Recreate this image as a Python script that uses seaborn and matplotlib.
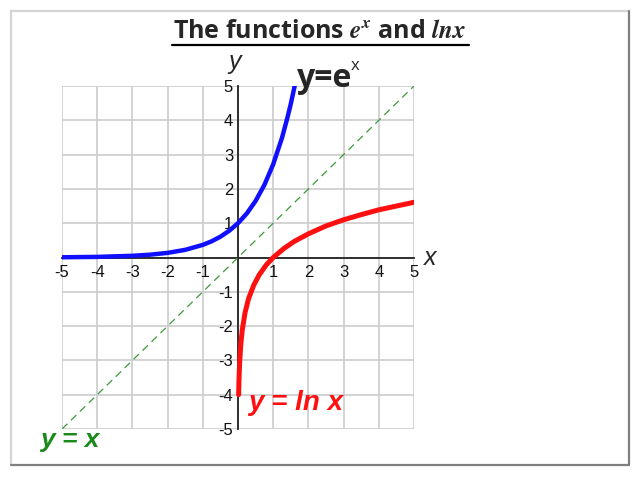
import matplotlib
matplotlib.use("Agg")
import matplotlib.pyplot as plt
import seaborn as sns
import numpy as np
from matplotlib.lines import Line2D
from matplotlib.ticker import FuncFormatter

# ---- data ----
exp_x = [-5, -4, -3, -2.5, -2, -1.5, -1, -0.75, -0.5, -0.25, 0, 0.25, 0.5, 0.75, 1, 1.25, 1.4, 1.5, 1.61]
exp_y = [0.007, 0.018, 0.05, 0.082, 0.135, 0.223, 0.368, 0.472, 0.607, 0.779, 1.0, 1.284, 1.649, 2.117, 2.718, 3.49, 4.06, 4.48, 5.0]

ln_x = [0.018, 0.03, 0.05, 0.08, 0.12, 0.2, 0.3, 0.45, 0.6, 0.8, 1.0, 1.3, 1.6, 2.0, 2.5, 3.0, 3.5, 4.0, 4.5, 5.0]
ln_y = [-4.0, -3.51, -3.0, -2.53, -2.12, -1.61, -1.20, -0.80, -0.51, -0.22, 0.0, 0.26, 0.47, 0.69, 0.92, 1.10, 1.25, 1.39, 1.50, 1.61]

id_x = [-5, 5]
id_y = [-5, 5]

ticks = [-5, -4, -3, -2, -1, 0, 1, 2, 3, 4, 5]

title_text = r"The functions $\mathbfit{e^{x}}$ and $\mathbfit{lnx}$"
exp_label = "y=e"
ln_label = "y = ln x"
id_label = "y = x"

# ---- figure ----
sns.set_style("white")
plt.rcParams["font.family"] = ["Liberation Sans", "DejaVu Sans"]
plt.rcParams["mathtext.fontset"] = "stix"
fig = plt.figure(figsize=(6.4, 4.8), dpi=100)

# slide border
fig.add_artist(Line2D([11/640, 11/640], [1-465/480, 1-11/480], color="#d4d4d4", lw=1.6))
fig.add_artist(Line2D([11/640, 629/640], [1-11/480, 1-11/480], color="#d4d4d4", lw=1.6))
fig.add_artist(Line2D([629/640, 629/640], [1-465/480, 1-11/480], color="#7f7f7f", lw=1.6))
fig.add_artist(Line2D([11/640, 629/640], [1-465/480, 1-465/480], color="#7f7f7f", lw=1.6))

ax = fig.add_axes([62/640, 1-429/480, (414-62)/640, (429-86)/480])
ax.set_xlim(-5, 5)
ax.set_ylim(-5, 5)
ax.set_xticks(ticks)
ax.set_yticks(ticks)
ax.grid(True, color="#cccccc", lw=1.2)
ax.set_axisbelow(True)
for s in ["top", "right"]:
    ax.spines[s].set_visible(False)
ax.spines["left"].set_position("zero")
ax.spines["bottom"].set_position("zero")
for s in ["left", "bottom"]:
    ax.spines[s].set_color("#222222")
    ax.spines[s].set_linewidth(1.3)
    ax.spines[s].set_zorder(2)
ax.tick_params(direction="inout", length=7, width=1.2, color="#222222",
               labelsize=12, labelcolor="#111111")
ax.tick_params(axis="x", pad=2)
ax.tick_params(axis="y", pad=0)
fmt = FuncFormatter(lambda v, p: "" if v == 0 else f"{int(v)}")
ax.xaxis.set_major_formatter(fmt)
ax.yaxis.set_major_formatter(fmt)

sns.lineplot(x=id_x, y=id_y, ax=ax, color="#3a9a3a", lw=0.9,
             linestyle=(0, (6, 4)), estimator=None, sort=False, zorder=3)
sns.lineplot(x=exp_x, y=exp_y, ax=ax, color="#1010ff", lw=3.2,
             estimator=None, sort=False, zorder=4)
sns.lineplot(x=ln_x, y=ln_y, ax=ax, color="#ff1010", lw=3.6,
             estimator=None, sort=False, zorder=4)
ax.set_xlabel("")
ax.set_ylabel("")
for lab in ax.get_xticklabels() + ax.get_yticklabels():
    lab.set_clip_on(False)

# axis names
fig.text(430/640, 1-258/480, "x", fontsize=18, style="italic", ha="center", va="center")
fig.text(235/640, 1-62/480, "y", fontsize=18, style="italic", ha="center", va="center")

# labels for curves
fig.text(297/640, 1-87/480, exp_label, fontsize=23, ha="left", va="baseline",
         weight="bold", family=["Open Sans", "DejaVu Sans"])
fig.text(351/640, 1-70/480, "x", fontsize=12, ha="left", va="baseline",
         family=["Open Sans", "DejaVu Sans"])
fig.text(248/640, 1-410/480, ln_label, fontsize=20, color="#ff1010",
         weight="bold", style="italic", ha="left", va="baseline")
fig.text(40/640, 1-447/480, id_label, fontsize=19, color="#1a8a1a",
         weight="bold", style="italic", ha="left", va="baseline")

# title with underline
t = fig.text(320/640, 1-38/480, title_text, fontsize=18, weight="bold",
             ha="center", va="baseline", family=["Open Sans", "DejaVu Sans"])
fig.add_artist(Line2D([172/640, 469/640], [1-45/480, 1-45/480], color="black", lw=1.6))

fig.savefig("out.png", dpi=100)
